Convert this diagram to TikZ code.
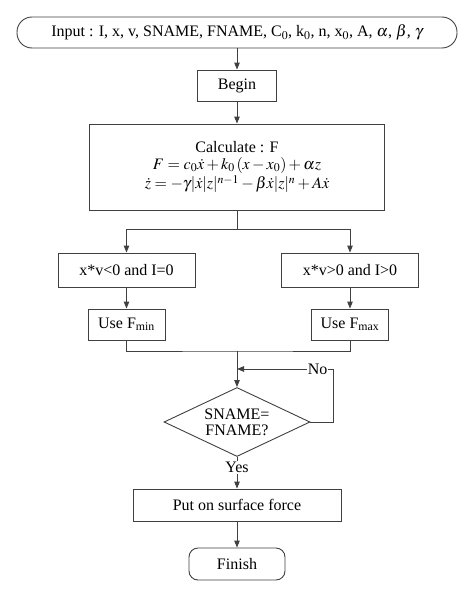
\documentclass[tikz,border=0pt]{standalone}
\usepackage{mathptmx}
\usepackage{fontspec}
\setmainfont{Liberation Serif}
\usetikzlibrary{arrows.meta,shapes.geometric}
\definecolor{ln}{HTML}{404040}
\begin{document}
\begin{tikzpicture}[x=1pt,y=-1pt,
  font=\fontsize{16}{16}\selectfont,
  box/.style={draw=ln, line width=0.9pt, inner sep=0pt, align=center, text=black},
  ln/.style={draw=ln, line width=0.9pt},
  arr/.style={draw=ln, line width=0.9pt, -{Triangle[length=7pt,width=5.5pt]}},
  lbl/.style={fill=white, inner sep=1pt}]
\useasboundingbox (0,0) rectangle (474,597);
\node[box, rounded corners=15pt, minimum width=440pt, minimum height=31pt] (in) at (237,32.5)
  {Input : I, x, v, SNAME, FNAME, C$_0$, k$_0$, n, x$_0$, A, $\alpha$, $\beta$, $\gamma$};
\node[box, minimum width=79pt, minimum height=31pt] (begin) at (237,85.5) {Begin};
\node[box, minimum width=295pt, minimum height=86pt] (calc) at (237,167)
  {Calculate : F\\[1pt]
   $F = c_0\dot{x} + k_0\,(x - x_0) + \alpha z$\\[1pt]
   $\dot{z} = -\gamma|\dot{x}|z|^{n-1} - \beta\dot{x}|z|^{n} + A\dot{x}$};
\coordinate (split) at (237,229);
\node[box, minimum width=137pt, minimum height=34pt] (cl) at (126.5,270) {x*v<0 and I=0};
\node[box, minimum width=137pt, minimum height=34pt] (cr) at (350,270) {x*v>0 and I>0};
\node[box, minimum width=77pt, minimum height=31pt] (fmin) at (126.5,324.5) {Use F\textsubscript{min}};
\node[box, minimum width=77pt, minimum height=31pt] (fmax) at (350,324.5) {Use F\textsubscript{max}};
\coordinate (merge) at (237,351);
\coordinate (loop) at (237,369);
\coordinate (ncorner) at (333,369);
\node[box, diamond, aspect=2.1, minimum width=146pt, minimum height=69pt] (dec) at (237,422) {SNAME=\\FNAME?};
\node[box, minimum width=208pt, minimum height=32pt] (put) at (237,505) {Put on surface force};
\node[box, rounded corners=9pt, minimum width=96pt, minimum height=32pt] (fin) at (237,564) {Finish};
\draw[arr] (in) -- (begin);
\draw[arr] (begin) -- (calc);
\draw[ln] (calc.south) -- (split);
\draw[arr] (split) -| (cl.north);
\draw[arr] (split) -| (cr.north);
\draw[arr] (cl) -- (fmin);
\draw[arr] (cr) -- (fmax);
\draw[ln] (fmin.south) |- (merge) -| (fmax.south);
\draw[arr] (merge) -- (dec.north);
\draw[ln] (dec.east) -| (ncorner);
\draw[arr] (ncorner) -- node[lbl, pos=0.16] {No} (loop);
\draw[arr] (dec.south) -- node[lbl, pos=0.34] {Yes} (put.north);
\draw[arr] (put) -- (fin);
\end{tikzpicture}
\end{document}
